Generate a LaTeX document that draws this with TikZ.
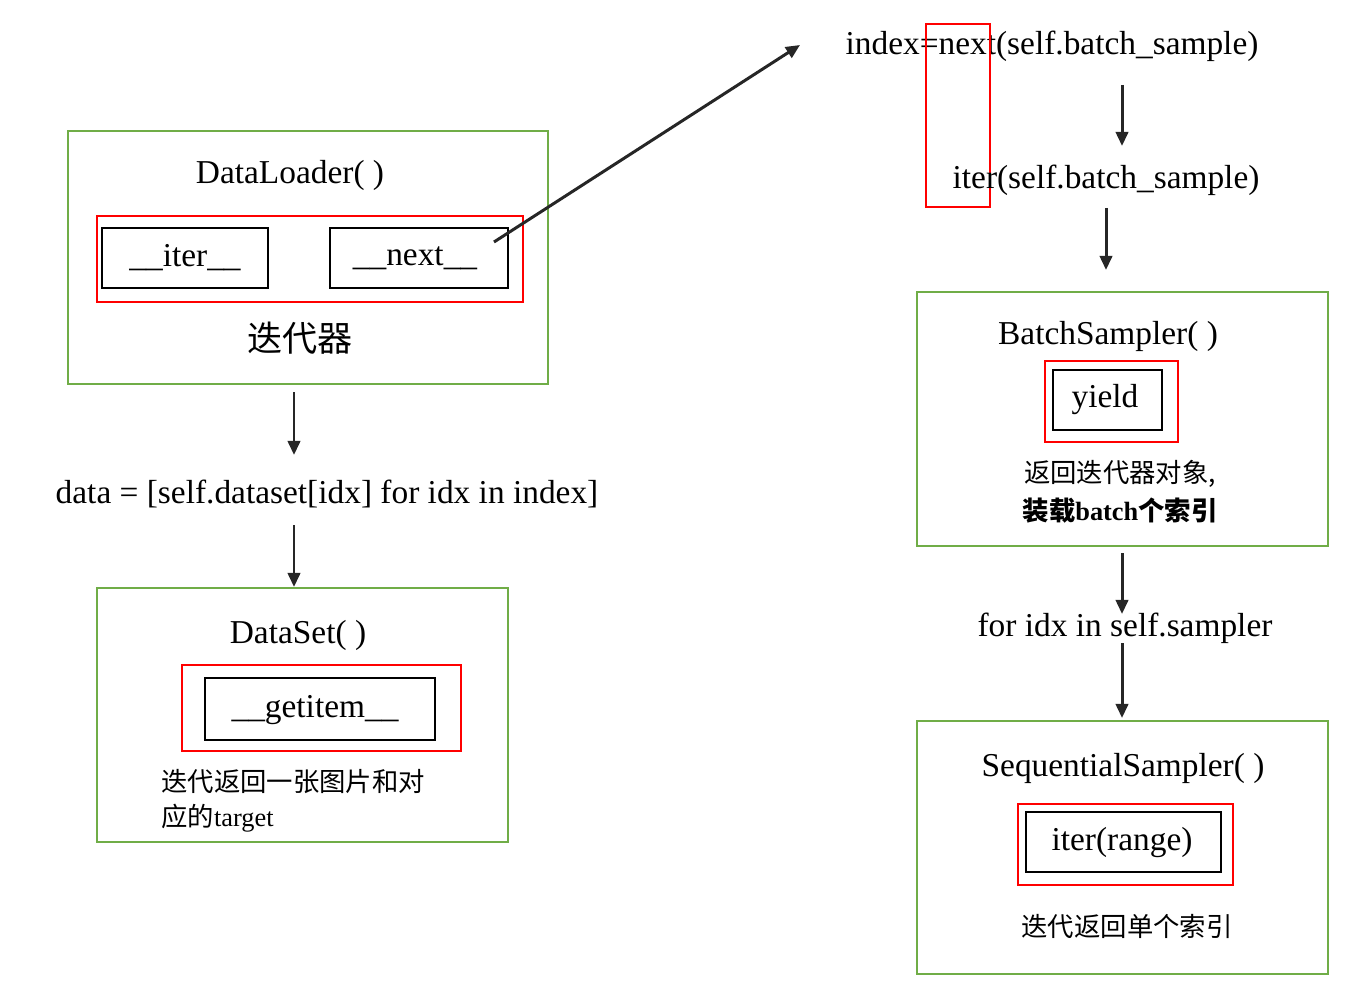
\documentclass[tikz,border=0pt]{standalone}
\usepackage{fontspec}
\setmainfont{Liberation Serif}
\newfontfamily\cjk{Noto Sans CJK SC}
\usetikzlibrary{arrows.meta}
\definecolor{gbox}{RGB}{112,173,71}
\tikzset{
 gb/.style={draw=gbox,line width=1.2pt},
 rb/.style={draw=red,line width=1pt},
 kb/.style={draw=black,line width=1pt},
 arr/.style={draw=black!85,line width=1.7pt,-{Triangle[length=8pt,width=7pt]}},
 t/.style={font=\fontsize{19}{22}\selectfont,inner sep=0pt},
 c/.style={font=\cjk\fontsize{15}{20}\selectfont,inner sep=0pt},
}
\begin{document}
\begin{tikzpicture}[x=0.02cm,y=-0.02cm]
\useasboundingbox (0,0) rectangle (1368,1000);
% DataLoader
\draw[gb] (68,131) rectangle (548,384);
\node[t] (dl) at (290,175) {DataLoader( )};
\draw[rb] (97,216) rectangle (523,302);
\draw[kb] (102,228) rectangle (268,288);
\node[t] (it) at (185,258) {\_\_iter\_\_};
\draw[kb] (330,228) rectangle (508,288);
\node[t] (nx) at (415,258) {\_\_next\_\_};
\coordinate (nxa) at (494,242);
\node[font=\cjk\fontsize{20}{24}\selectfont,inner sep=0pt] (ddq) at (300,338) {迭代器};
\coordinate (a1s) at (294,392); \coordinate (a1e) at (294,455);
\draw[arr] (a1s) -- (a1e);
\node[t] (data) at (327,494) {data = [self.dataset[idx] for idx in index]};
\coordinate (a2s) at (294,525); \coordinate (a2e) at (294,587);
\draw[arr] (a2s) -- (a2e);
% DataSet
\draw[gb] (97,588) rectangle (508,842);
\node[t] (ds) at (298,635) {DataSet( )};
\draw[rb] (182,665) rectangle (461,751);
\draw[kb] (205,678) rectangle (435,740);
\node[t] (gi) at (315,710) {\_\_getitem\_\_};
\node[c,anchor=west] (d1) at (161,782) {迭代返回一张图片和对};
\node[c,anchor=west] (d2) at (161,818) {应的{\rmfamily target}};
% long arrow
\coordinate (ie) at (800,45);
\draw[arr] (nxa) -- (ie);
\node[t] (idx) at (1052,46) {index=next(self.batch\_sample)};
\draw[rb] (926,24) rectangle (990,207);
\coordinate (a3s) at (1122,85); \coordinate (a3e) at (1122,146);
\draw[arr] (a3s) -- (a3e);
\node[t] (itb) at (1106,180) {iter(self.batch\_sample)};
\coordinate (a4s) at (1106,208); \coordinate (a4e) at (1106,270);
\draw[arr] (a4s) -- (a4e);
% BatchSampler
\draw[gb] (917,292) rectangle (1328,546);
\node[t] (bs) at (1108,336) {BatchSampler( )};
\draw[rb] (1045,361) rectangle (1178,442);
\draw[kb] (1053,370) rectangle (1162,430);
\node[t] (y) at (1105,400) {yield};
\node[c] (b1) at (1120,474) {返回迭代器对象,};
\node[c,font=\cjk\bfseries\fontsize{15}{20}\selectfont] (b2) at (1120,511) {装载{\rmfamily\bfseries batch}个索引};
\coordinate (a5s) at (1122,553); \coordinate (a5e) at (1122,614);
\draw[arr] (a5s) -- (a5e);
\node[t] (fs) at (1125,628) {for idx in self.sampler};
\coordinate (a6s) at (1122,643); \coordinate (a6e) at (1122,718);
\draw[arr] (a6s) -- (a6e);
% Sequential
\draw[gb] (917,721) rectangle (1328,974);
\node[t] (ss) at (1123,768) {SequentialSampler( )};
\draw[rb] (1018,804) rectangle (1233,885);
\draw[kb] (1026,812) rectangle (1221,872);
\node[t] (ir) at (1122,843) {iter(range)};
\node[c] (s1) at (1127,926) {迭代返回单个索引};
\end{tikzpicture}
\end{document}
